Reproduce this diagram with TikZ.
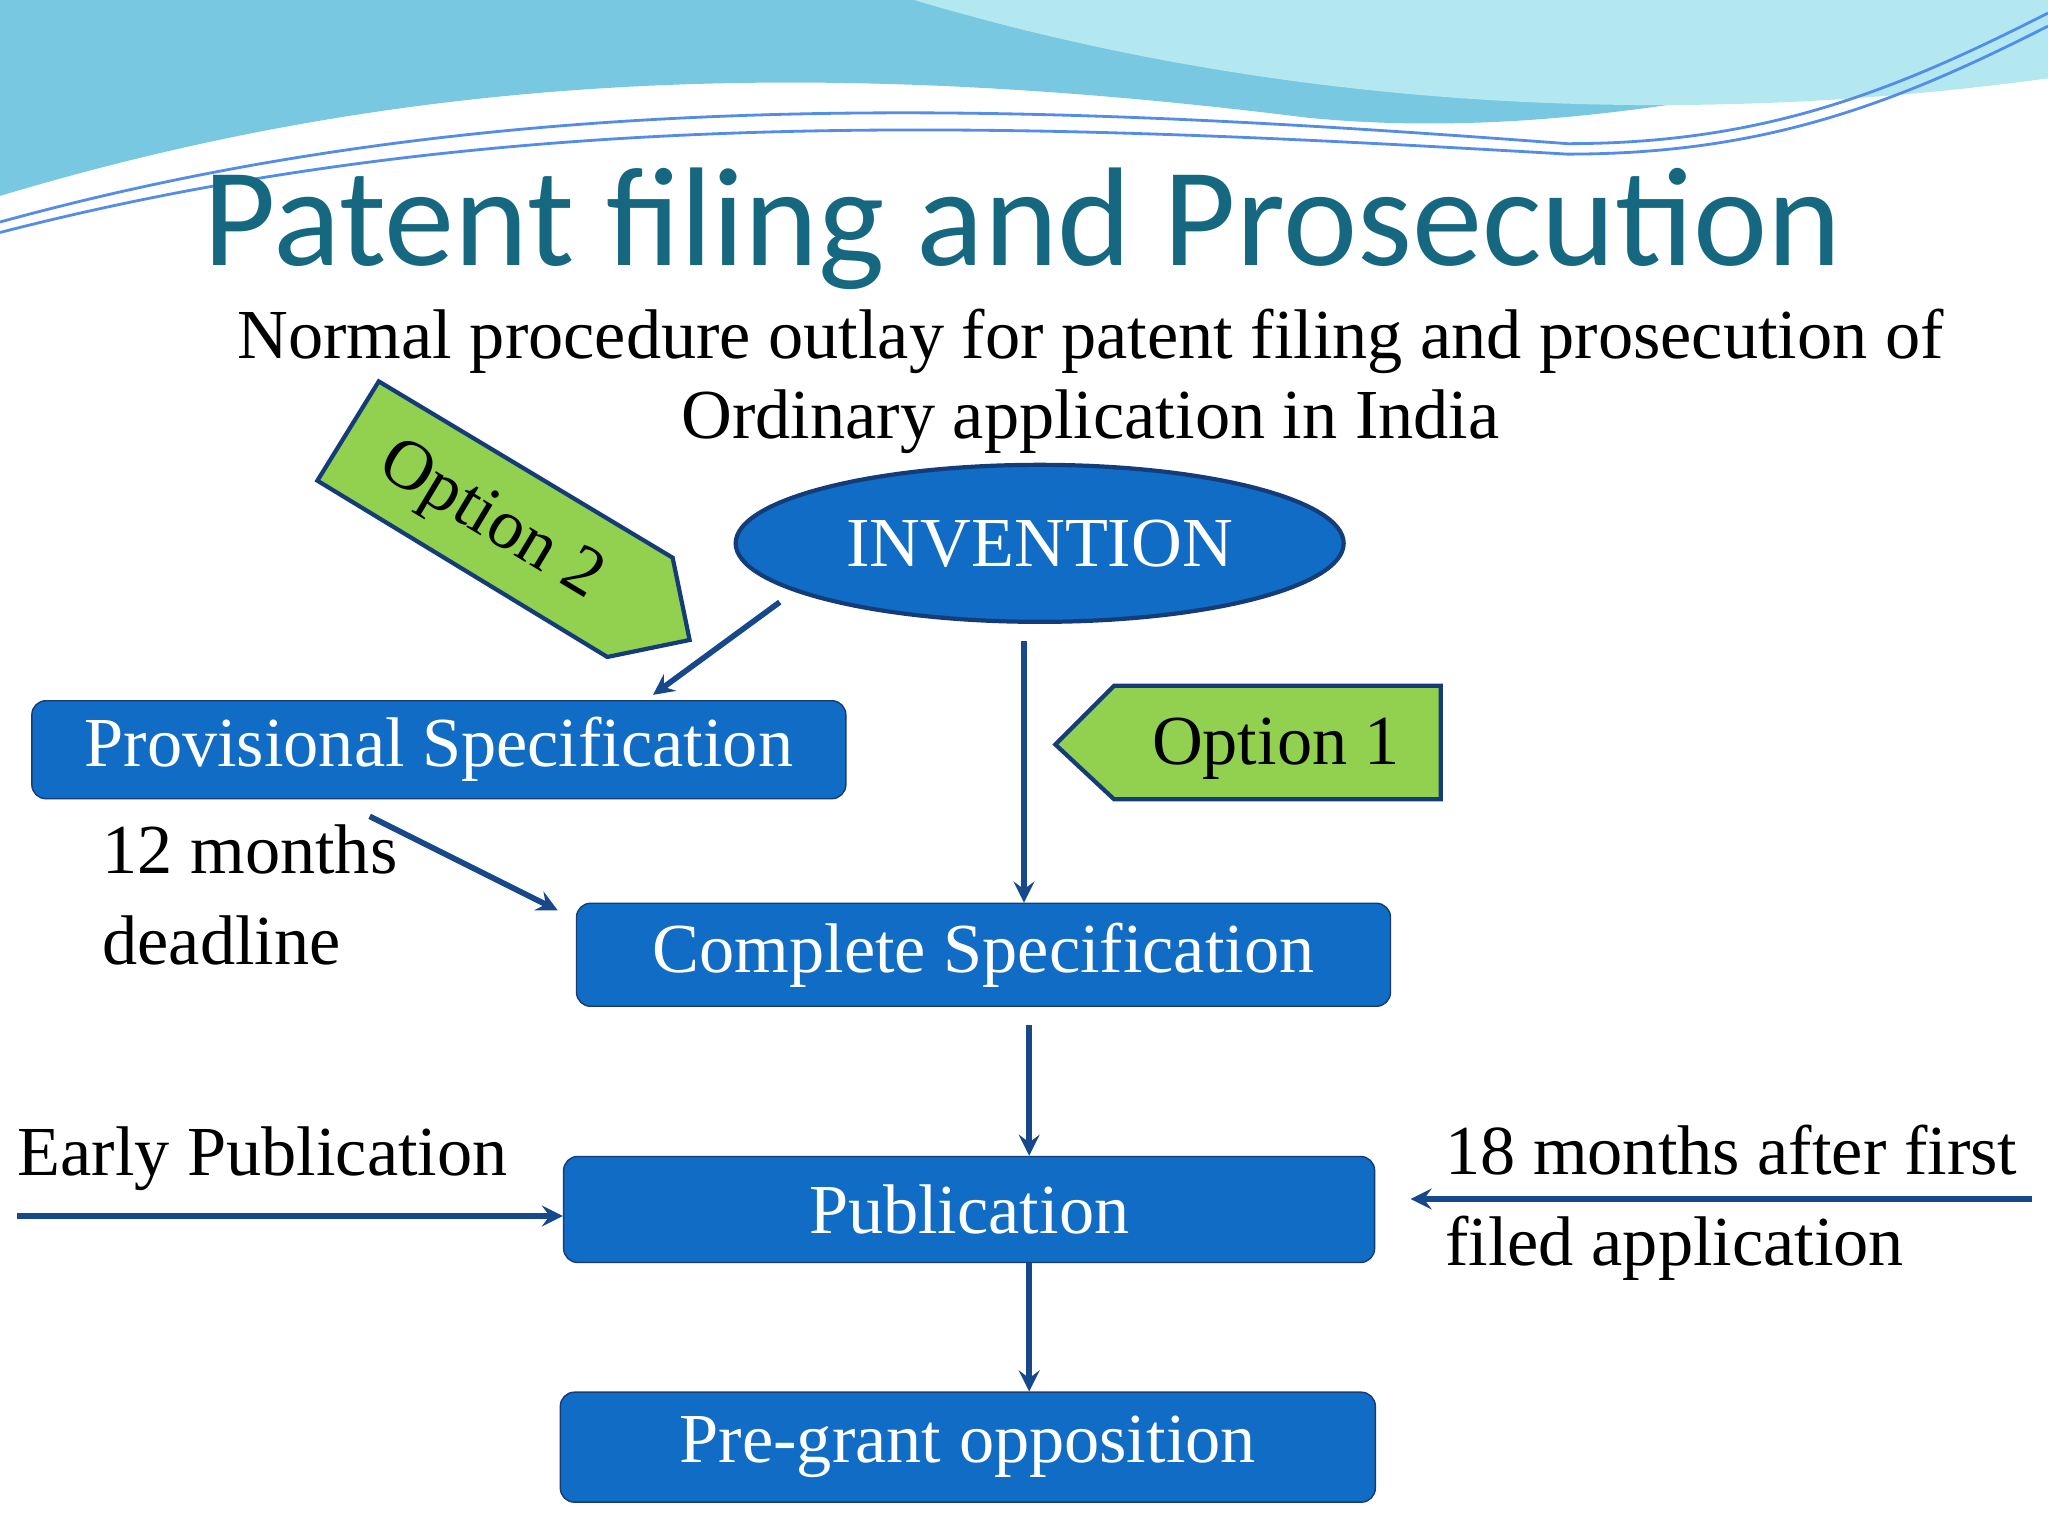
\documentclass[tikz,border=0pt]{standalone}
\usepackage{fontspec}
\setmainfont{Liberation Serif}
\newfontfamily\titlefont{Carlito}
\usetikzlibrary{shapes.geometric}
\definecolor{boxblue}{RGB}{16,108,196}
\definecolor{edgeblue}{RGB}{20,60,120}
\definecolor{arrblue}{RGB}{24,72,140}
\definecolor{titleteal}{RGB}{22,104,128}
\definecolor{optgreen}{RGB}{146,208,80}
\definecolor{wavea}{RGB}{120,200,225}
\definecolor{waveb}{RGB}{180,232,240}
\tikzset{
  stage/.style={draw=edgeblue,fill=boxblue,rounded corners=4pt,text=white,font=\fontsize{20}{24}\selectfont},
  note/.style={font=\fontsize{20}{24}\selectfont,inner sep=0pt},
  flow/.style={draw=arrblue,line width=1.6pt,->,>=stealth}
}
\begin{document}
\begin{tikzpicture}[x=0.01306cm,y=-0.01306cm]
\useasboundingbox (0,0) rectangle (1568,1176);
% top waves
\fill[wavea] (0,0) -- (0,150) .. controls (300,60) and (600,40) .. (1000,90) .. controls (1200,110) and (1400,60) .. (1568,20) -- (1568,0) -- cycle;
\fill[waveb] (700,0) .. controls (900,60) and (1200,110) .. (1568,60) -- (1568,0) -- cycle;
\draw[wavea!70!blue,line width=0.8pt] (0,170) .. controls (400,60) and (800,80) .. (1200,110) .. controls (1350,110) and (1450,70) .. (1568,10);
\draw[wavea!70!blue,line width=0.8pt] (0,178) .. controls (400,75) and (800,95) .. (1200,118) .. controls (1350,118) and (1450,80) .. (1568,20);
% title
\node[text=titleteal,font=\titlefont\fontsize{40}{46}\selectfont] (title) at (783,175) {Patent filing and Prosecution};
\node[note,align=center] (sub) at (835,292) {Normal procedure outlay for patent filing and prosecution of\\[-1pt]Ordinary application in India};
% option tags
\draw[fill=optgreen,draw=edgeblue,line width=1.2pt] (290,292) -- (515,427) -- (528,490) -- (465,503) -- (243,368) -- cycle;
\node[note,rotate=-31] (opt2) at (375,400) {Option 2};
\draw[fill=optgreen,draw=edgeblue,line width=1.2pt] (808,570) -- (853,525) -- (1103,525) -- (1103,612) -- (853,612) -- cycle;
\node[note] (opt1) at (977,573) {Option 1};
% steps
\node[ellipse,draw=edgeblue,fill=boxblue,text=white,line width=1.2pt,font=\fontsize{20}{24}\selectfont,inner sep=0pt,minimum width=6.08cm,minimum height=1.57cm] (inv) at (796,416) {INVENTION};
\node[stage,minimum width=8.14cm,minimum height=0.98cm] (prov) at (336,574) {Provisional Specification};
\node[stage,minimum width=8.14cm,minimum height=1.03cm] (comp) at (753,731) {Complete Specification};
\node[stage,minimum width=8.11cm,minimum height=1.06cm] (pub) at (742,926) {Publication};
\node[stage,minimum width=8.15cm,minimum height=1.10cm] (pgo) at (741,1108) {Pre-grant opposition};
% side notes
\node[note,anchor=west,align=left] (dead) at (78,685) {12 months\\[2pt]deadline};
\node[note,anchor=west] (early) at (13,887) {Early Publication};
\node[note,anchor=west,align=left] (eighteen) at (1106,921) {18 months after first\\[2pt]filed application};
\coordinate (c1) at (597,461);
\coordinate (c2) at (283,625);
\coordinate (c3) at (13,931);
\coordinate (c4) at (1556,918);
% connectors
\draw[flow] (c1) -- (500,532);
\draw[flow] (784,491) -- (comp.north -| 784,0);
\draw[flow] (c2) -- (427,697);
\draw[flow] (788,785) -- (pub.north -| 788,0);
\draw[flow] (c3) -- (pub.west |- c3);
\draw[flow] (c4) -- (1080,918);
\draw[flow] (pub.south -| 788,0) -- (pgo.north -| 788,0);
\end{tikzpicture}
\end{document}
